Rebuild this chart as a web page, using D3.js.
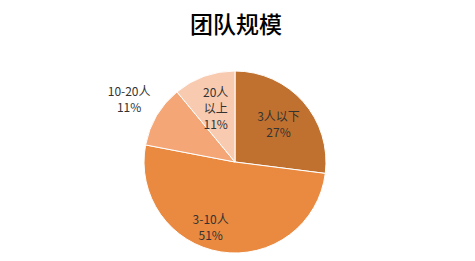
<!DOCTYPE html>
<html>
<head>
<meta charset="utf-8">
<script src="https://cdn.jsdelivr.net/npm/d3@7/dist/d3.min.js"></script>
<style>
  body { margin: 0; background: #fff; }
  svg { display: block; font-family: "Noto Sans CJK SC", "Microsoft YaHei", sans-serif; }
</style>
</head>
<body>
<svg id="chart" width="475" height="261"></svg>
<script>
// team size share
var categories = ["3人以下", "3-10人", "10-20人", "20人以上"];
var labelLines = [["3人以下"], ["3-10人"], ["10-20人"], ["20人", "以上"]];
var values = [27, 51, 11, 11];
var colors = ["#c0712f", "#e98a40", "#f4a676", "#f8cbb1"];

var svg = d3.select("#chart"),
    width = +svg.attr("width"),
    height = +svg.attr("height"),
    radius = 91,
    g = svg.append("g").attr("transform", "translate(235,162)");

svg.append("text")
    .attr("x", 236)
    .attr("y", 33)
    .attr("text-anchor", "middle")
    .style("font-size", "23px")
    .style("font-weight", "500")
    .attr("fill", "#000")
    .text("团队规模");

var pie = d3.pie().sort(null).value(function(d) { return d; });
var arc = d3.arc().innerRadius(0).outerRadius(radius);

var arcs = pie(values);

g.selectAll(".slice")
    .data(arcs)
    .enter().append("path")
    .attr("class", "slice")
    .attr("d", arc)
    .attr("fill", function(d, i) { return colors[i]; })
    .attr("stroke", "#fff")
    .attr("stroke-width", 1);

// label radius per slice (10-20 sits outside)
var labelR = [58, 66, 123, 57],
    labelDx = [0, -14, 0, 0];

var labels = g.selectAll(".label")
    .data(arcs)
    .enter().append("text")
    .attr("class", "label")
    .attr("text-anchor", "middle")
    .style("font-size", "12px")
    .attr("fill", "#333")
    .attr("transform", function(d, i) {
        var c = d3.arc().innerRadius(labelR[i]).outerRadius(labelR[i]).centroid(d);
        var lines = labelLines[i].length + 1;
        return "translate(" + (c[0] + labelDx[i]) + "," + (c[1] - (lines - 1) * 8 + 5) + ")";
    });

labels.each(function(d, i) {
    var t = d3.select(this);
    labelLines[i].concat([values[i] + "%"]).forEach(function(s, j) {
        t.append("tspan")
            .attr("x", 0)
            .attr("dy", j === 0 ? 0 : 16)
            .text(s);
    });
});
</script>
</body>
</html>
